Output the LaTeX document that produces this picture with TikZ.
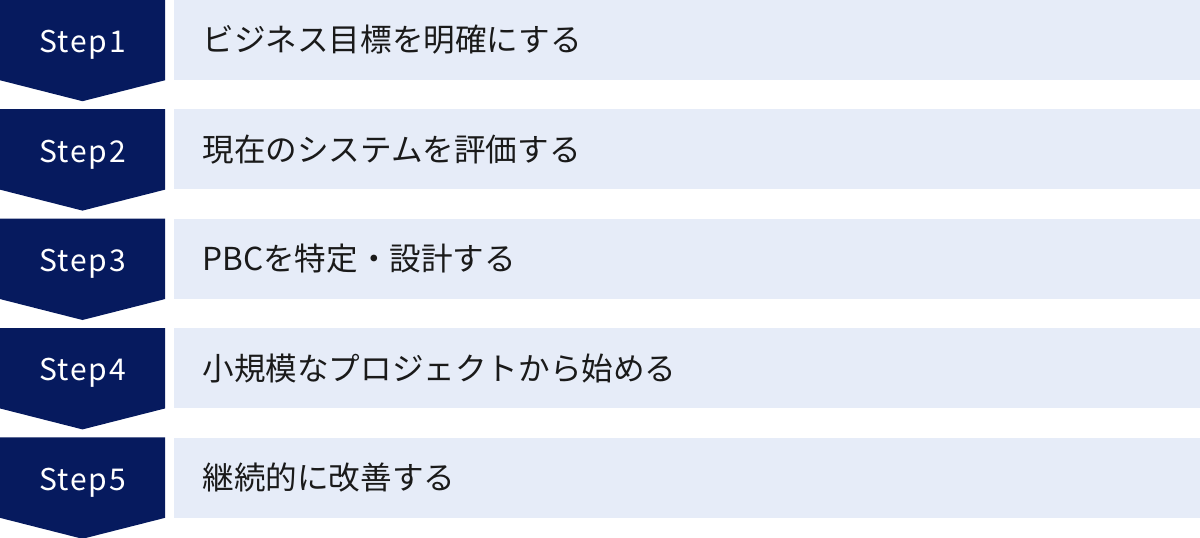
\documentclass[tikz,border=0pt]{standalone}
\usepackage{fontspec}
\setmainfont{Noto Sans}
\newfontfamily\jpfont{Noto Sans CJK JP}
\newfontfamily\stepfont[LetterSpace=6]{Noto Sans CJK JP}
\usetikzlibrary{positioning, calc}

\definecolor{stepnavy}{HTML}{061A5E}
\definecolor{barblue}{HTML}{E6ECF8}
\definecolor{bartext}{HTML}{1A1A1A}

\begin{document}
\begin{tikzpicture}[
  x=1pt, y=1pt,
  stepbox/.style = {minimum width=165pt, minimum height=80pt, inner sep=0pt},
  steplabel/.style = {anchor=base, inner sep=0pt, text=white,
                      font=\stepfont\fontsize{30}{30}\selectfont},
  bar/.style = {fill=barblue, minimum height=80pt, text width=970pt,
                inner xsep=28pt, inner ysep=0pt, align=left, text=bartext,
                font=\jpfont\fontsize{31.6}{32}\selectfont},
  node distance=29pt and 9pt
]
  \useasboundingbox (0,0) rectangle (1200,-538);

  % Steps
  \node[stepbox] (s1) at (82.5,-40) {};
  \node[stepbox, below=of s1] (s2) {};
  \node[stepbox, below=of s2] (s3) {};
  \node[stepbox, below=of s3] (s4) {};
  \node[stepbox, below=of s4] (s5) {};

  % Chevrons
  \foreach \s/\t in {s1/Step1, s2/Step2, s3/Step3, s4/Step4, s5/Step5} {
    \fill[stepnavy] (\s.north west) -- (\s.north east) -- (\s.south east)
      -- ($(\s.south)+(0,-21)$) -- (\s.south west) -- cycle;
    \node[steplabel] (\s-label) at ($(\s.center)+(0,-12.7)$) {\t};
  }

  % Bars
  \node[bar, right=of s1] (b1) {ビジネス目標を明確にする};
  \node[bar, right=of s2] (b2) {現在のシステムを評価する};
  \node[bar, right=of s3] (b3) {PBCを特定・設計する};
  \node[bar, right=of s4] (b4) {小規模なプロジェクトから始める};
  \node[bar, right=of s5] (b5) {継続的に改善する};

\end{tikzpicture}
\end{document}
